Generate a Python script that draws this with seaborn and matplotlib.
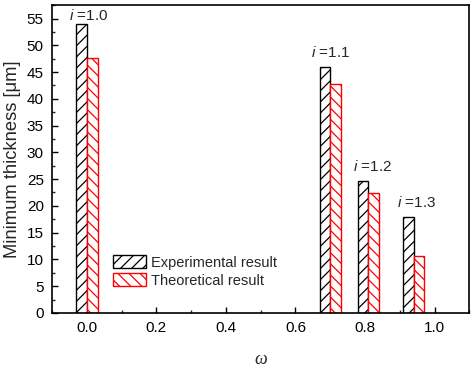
import matplotlib
matplotlib.use("Agg")
import matplotlib.pyplot as plt
from matplotlib.patches import Patch
from matplotlib.ticker import MultipleLocator, FormatStrFormatter
import seaborn as sns
import pandas as pd

omega = [0.0, 0.7, 0.81, 0.94]
experimental = [53.9, 46.0, 24.7, 18.0]
theoretical = [47.6, 42.8, 22.4, 10.6]
i_labels = ["1.0", "1.1", "1.2", "1.3"]
series_names = ["Experimental result", "Theoretical result"]

df = pd.DataFrame({
    "omega": omega * 2,
    "value": experimental + theoretical,
    "series": [series_names[0]] * 4 + [series_names[1]] * 4,
})

sns.set_theme(style="ticks")
plt.rcParams["font.family"] = ["Liberation Sans", "DejaVu Sans"]
plt.rcParams["hatch.linewidth"] = 0.9
plt.rcParams["mathtext.fontset"] = "custom"
plt.rcParams["mathtext.it"] = "Liberation Sans:italic"
plt.rcParams["mathtext.rm"] = "Liberation Sans"

fig = plt.figure(figsize=(4.74, 3.66), dpi=100)
ax = fig.add_axes([0.110, 0.145, 0.880, 0.841])

sns.barplot(data=df, x="omega", y="value", hue="series", native_scale=True,
            width=0.56, palette=["white", "white"], ax=ax, legend=False,
            errorbar=None)

edge_colors = ["black", "red"]
hatches = ["///", "\\\\\\"]
for cont, ec, h in zip(ax.containers, edge_colors, hatches):
    for p in cont:
        p.set_facecolor("white")
        p.set_edgecolor(ec)
        p.set_hatch(h)
        p.set_linewidth(1.0)

ax.set_xlim(-0.1, 1.1)
ax.set_ylim(0, 57.5)
ax.xaxis.set_major_locator(MultipleLocator(0.2))
ax.xaxis.set_minor_locator(MultipleLocator(0.1))
ax.yaxis.set_major_locator(MultipleLocator(5))
ax.yaxis.set_minor_locator(MultipleLocator(2.5))
ax.xaxis.set_major_formatter(FormatStrFormatter("%.1f"))
ax.tick_params(which="major", direction="in", length=4.5, width=1.0,
               labelsize=11, colors="black", pad=6)
ax.tick_params(which="minor", direction="in", length=2.5, width=1.0)
for s in ax.spines.values():
    s.set_visible(True)
    s.set_linewidth(1.2)
    s.set_color("black")

ax.set_xlabel("ω", fontsize=13, family="Liberation Serif", style="italic",
              labelpad=11)
ax.set_ylabel("Minimum thickness [μm]", fontsize=13.2, labelpad=4)

label_offsets = [(1, 1), (0, 5), (3, 5), (2, 5)]
for x, v, lab, off in zip(omega, experimental, i_labels, label_offsets):
    ax.annotate(r"$i$" + " =" + lab, xy=(x, v), xytext=off,
                textcoords="offset points", ha="center", va="bottom",
                fontsize=11)

handles = [Patch(facecolor="white", edgecolor=ec, hatch=h, linewidth=1.0)
           for ec, h in zip(edge_colors, hatches)]
ax.legend(handles, series_names, loc="lower left",
          bbox_to_anchor=(0.133, 0.063), frameon=False, fontsize=10.5,
          handlelength=2.2, handleheight=0.95, handletextpad=0.35,
          labelspacing=0.25, borderaxespad=0)

fig.savefig("out.png", dpi=100)
